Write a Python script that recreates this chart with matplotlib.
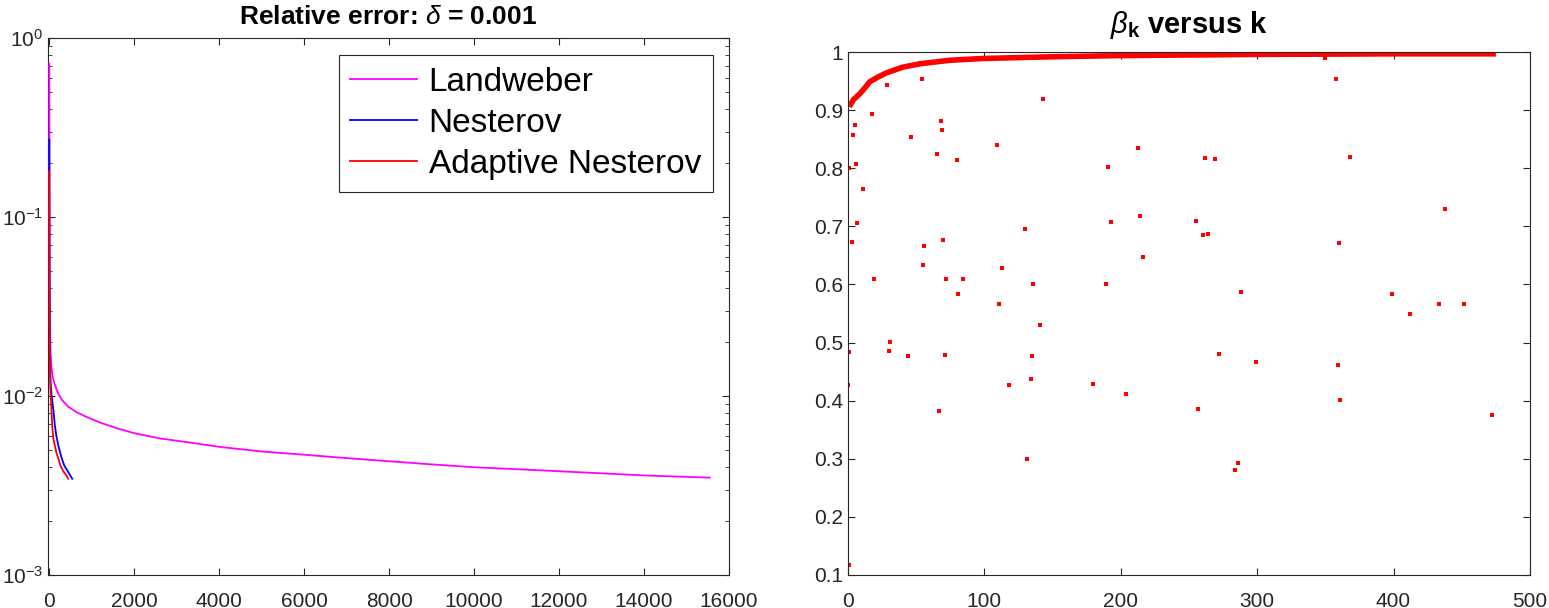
import matplotlib.pyplot as plt

plt.rcParams['font.family'] = ['Liberation Sans', 'DejaVu Sans']
plt.rcParams['mathtext.fontset'] = 'custom'
plt.rcParams['mathtext.rm'] = 'Liberation Sans'
plt.rcParams['mathtext.it'] = 'Liberation Sans:italic'
plt.rcParams['mathtext.bf'] = 'Liberation Sans:bold'

# Erro relativo
k_land = [0, 2, 5, 10, 20, 30, 50, 80, 120, 200, 300, 450, 650, 900, 1200, 1600,
          2000, 2600, 3300, 4000, 5000, 6000, 7000, 8000, 9000, 10000, 11000,
          12000, 13000, 14000, 15550]
err_land = [0.72, 0.35, 0.1, 0.04, 0.022, 0.0175, 0.0145, 0.0128, 0.0118, 0.0104,
            0.0095, 0.0087, 0.0081, 0.0076, 0.0071, 0.0066, 0.0062, 0.0058,
            0.0055, 0.0052, 0.0049, 0.0047, 0.0045, 0.00432, 0.00415, 0.0040,
            0.0039, 0.0038, 0.0037, 0.0036, 0.0035]

k_nest = [0, 1, 2, 4, 8, 15, 30, 50, 75, 100, 130, 165, 220, 280, 350, 445, 540]
err_nest = [0.27, 0.18, 0.1, 0.05, 0.025, 0.016, 0.012, 0.0103, 0.0092, 0.0082,
            0.0069, 0.0060, 0.0052, 0.0046, 0.0041, 0.00376, 0.00345]

k_adap = [0, 1, 3, 6, 12, 25, 47, 70, 94, 130, 170, 210, 260, 330, 400, 445]
err_adap = [0.18, 0.1, 0.05, 0.025, 0.015, 0.011, 0.0087, 0.0068, 0.0058, 0.0053,
            0.0048, 0.0045, 0.0041, 0.0038, 0.0036, 0.00345]

# beta_k: curva principal
k_curve = [1, 4, 9, 13, 16, 22, 28, 40, 53, 75, 99, 150, 200, 300, 400, 475]
beta_curve = [0.906, 0.918, 0.929, 0.94, 0.949, 0.957, 0.964, 0.974, 0.980,
              0.986, 0.989, 0.992, 0.994, 0.996, 0.997, 0.997]

# beta_k: pontos isolados
k_out = [1, 4, 5, 6, 11, 7, 3, 18, 19, 29, 54, 46, 68, 69, 65, 80, 70, 55.5, 55,
         72, 84, 81, 109, 130, 113, 136, 111, 143, 141,
         1, 0, 0.5, 30, 31, 44, 67, 71, 118, 131, 134, 135,
         350, 358, 213, 191, 262, 269, 368, 193, 214, 255, 260, 264, 360, 216,
         189, 288, 180, 204, 257, 272, 299, 359, 361, 286, 284,
         437.5, 399, 412, 433.5, 452, 472.5]
beta_out = [0.80, 0.857, 0.874, 0.807, 0.765, 0.705, 0.674, 0.894, 0.609, 0.943,
            0.954, 0.854, 0.881, 0.866, 0.824, 0.815, 0.676, 0.666, 0.634,
            0.609, 0.609, 0.584, 0.84, 0.696, 0.628, 0.600, 0.567, 0.920, 0.531,
            0.484, 0.427, 0.117, 0.485, 0.501, 0.477, 0.382, 0.478, 0.427,
            0.300, 0.437, 0.477,
            0.989, 0.953, 0.835, 0.802, 0.818, 0.816, 0.819, 0.707, 0.718,
            0.710, 0.685, 0.687, 0.672, 0.648, 0.600, 0.587, 0.429, 0.411,
            0.386, 0.481, 0.466, 0.461, 0.401, 0.292, 0.280,
            0.730, 0.583, 0.550, 0.566, 0.567, 0.376]

axcol = (0.15, 0.15, 0.15)

fig = plt.figure(figsize=(15.49, 6.08), dpi=100)
ax1 = fig.add_axes([0.031, 0.0543, 0.4396, 0.883])
ax2 = fig.add_axes([0.5474, 0.0543, 0.4403, 0.860])

ax1.semilogy(k_land, err_land, color='#ff00ff', lw=1.3, label='Landweber', zorder=3)
ax1.semilogy(k_nest, err_nest, color='#0000ff', lw=1.3, label='Nesterov', zorder=3)
ax1.semilogy(k_adap, err_adap, color='#ff0000', lw=1.3, label='Adaptive Nesterov', zorder=3)
ax1.set_xlim(-30, 16000)
ax1.set_ylim(1e-3, 1)
ax1.set_xticks(range(0, 16001, 2000))
ax1.set_title(r'Relative error: $\delta$ = 0.001', fontsize=19, fontweight='bold', pad=10)
leg = ax1.legend(loc='upper right', bbox_to_anchor=(0.976, 0.968), fontsize=24,
                 fancybox=False, framealpha=1, edgecolor=axcol,
                 handlelength=2.0, borderpad=0.35, labelspacing=0.3, handletextpad=0.35,
                 borderaxespad=0)
leg.get_frame().set_linewidth(0.8)

ax2.plot(k_curve, beta_curve, color='#ff0000', lw=4, solid_capstyle='butt')
ax2.plot(k_out, beta_out, 's', color='#ff0000', markersize=3.3, markeredgewidth=0)
ax2.set_xlim(0, 500)
ax2.set_ylim(0.1, 1)
ax2.set_xticks(range(0, 501, 100))
ax2.set_yticks([0.1, 0.2, 0.3, 0.4, 0.5, 0.6, 0.7, 0.8, 0.9, 1.0])
ax2.set_yticklabels(['0.1', '0.2', '0.3', '0.4', '0.5', '0.6', '0.7', '0.8', '0.9', '1'])
ax2.set_title(r'$\beta_{\mathbf{k}}$ versus k', fontsize=21, fontweight='bold', pad=14)

for ax in (ax1, ax2):
    for s in ax.spines.values():
        s.set_color(axcol)
        s.set_linewidth(0.8)
    ax.tick_params(which='both', direction='in', top=True, right=True,
                   colors=axcol, labelsize=15, labelcolor=(0.15, 0.15, 0.15))
    ax.tick_params(which='major', length=5)
    ax.tick_params(which='minor', length=3)
    ax.tick_params(axis='x', which='major', pad=12)

fig.savefig('out.png', dpi=100)
